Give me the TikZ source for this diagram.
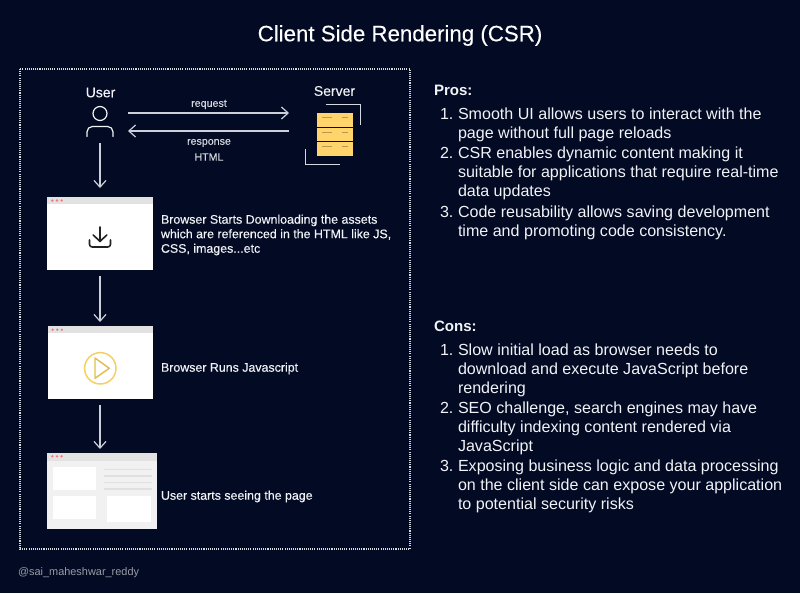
\documentclass[tikz,border=0pt]{standalone}
\usepackage{fontspec}
\setmainfont{Liberation Sans}
\newfontfamily\medfont[FakeBold=0.25]{Liberation Sans}
\definecolor{bg}{HTML}{020A24}
\definecolor{ink}{HTML}{F2F3F6}
\definecolor{soft}{HTML}{D5D8E0}
\definecolor{winbar}{HTML}{E2E2E2}
\definecolor{dots}{HTML}{F4777D}
\definecolor{amber}{HTML}{FFD56B}
\definecolor{amberline}{HTML}{F5CF60}
\definecolor{amberdark}{HTML}{E0C050}
\definecolor{pagegrey}{HTML}{F1F1F1}
\definecolor{linegrey}{HTML}{E0E0E0}
\definecolor{arrowc}{HTML}{CDD0DA}
\definecolor{iconink}{HTML}{222222}
\usetikzlibrary{arrows.meta}
\tikzset{
  x=0.75pt,y=-0.75pt,
  flow/.style={draw=arrowc,line width=0.9pt,-{Straight Barb[length=5pt,width=9pt,line width=0.9pt]}},
  txt/.style={inner sep=0pt,outer sep=0pt,anchor=base west,text=ink},
  step label/.style={txt,font=\medfont\fontsize{9.3pt}{10.9pt}\selectfont,align=left,anchor=west},
  small label/.style={inner sep=0pt,anchor=center,text=soft,font=\medfont\fontsize{8pt}{10pt}\selectfont},
  head label/.style={inner sep=0pt,anchor=center,text=ink,font=\medfont\fontsize{10.5pt}{12pt}\selectfont},
  num/.style={txt,font=\fontsize{12.05pt}{14.3pt}\selectfont},
  item/.style={txt,anchor=north west,align=left,font=\fontsize{12.05pt}{14.3pt}\selectfont},
  sect/.style={txt,font=\bfseries\fontsize{11.3pt}{14pt}\selectfont},
  winbody/.style={fill=white,draw=none,inner sep=0pt,outer sep=0pt,anchor=north west},
  rack/.style={fill=amber,inner sep=0pt,outer sep=0pt,minimum width=27pt,minimum height=10.1pt,anchor=north west},
  rackmark/.style={draw=amber!72!black,line width=0.35pt},
  rackcorner/.style={draw=soft,line width=0.5pt},
  icon/.style={draw=iconink,line width=1.2pt,line cap=round,line join=round},
}
\newcommand{\windots}[2]{%
  \fill[dots] (#1+5,#2) circle (1.3);
  \fill[dots] (#1+9.7,#2) circle (1.3);
  \fill[dots] (#1+14.3,#2) circle (1.3);
}
\begin{document}
\begin{tikzpicture}
\useasboundingbox (0,0) rectangle (800,593);
\fill[bg] (0,0) rectangle (800,593);
\node[inner sep=0pt,text=white,font=\medfont\fontsize{16.7pt}{20pt}\selectfont] (title) at (400,35.5) {Client Side Rendering (CSR)};
\draw[white!85!bg,line width=0.8pt,dash pattern=on 0.8pt off 0.8pt] (20,69) rectangle (410,549);

% user
\node[head label] (userlabel) at (100.5,92.5) {User};
\node[circle,draw=ink,line width=0.9pt,minimum size=10.5pt,inner sep=0pt] (user) at (100,113.5) {};
\draw[ink,line width=0.9pt,line cap=round,rounded corners=4pt] (87,136.5) -- (87,126.5) -- (113,126.5) -- (113,136.5);
\coordinate (userbottom) at (100,143);
\coordinate (a0e) at (100,188);

% server
\node[head label] (serverlabel) at (334.5,91) {Server};
\node[rack] (s1) at (317,113.3) {};
\node[rack] (s2) at (317,128) {};
\node[rack] (s3) at (317,142.3) {};
\foreach \yy in {117.5,132,146.3}{
  \draw[rackmark] (322,\yy) -- (332,\yy);
  \draw[rackmark] (342,\yy) -- (348,\yy);
}
\draw[rackcorner] (326,104.3) -- (360.5,104.3) -- (360.5,125);
\draw[rackcorner] (305,149) -- (305,164.3) -- (340,164.3);

% request / response
\coordinate (reqA) at (128,113);
\coordinate (reqB) at (289,113);
\coordinate (resA) at (289,131);
\coordinate (resB) at (128,131);
\draw[flow] (reqA) -- (reqB);
\draw[flow] (resA) -- (resB);
\node[small label] (req) at (209,104.5) {request};
\node[small label] (res) at (209,143) {response};
\node[small label] (html) at (209,157) {HTML};

% window 1
\node[winbody,minimum width=78.9pt,minimum height=55.2pt] (w1) at (47.3,196.5) {};
\fill[winbar] (47.3,196.5) rectangle (152.5,204);
\windots{47.3}{200.5}
\draw[icon] (100,227) -- (100,241.5) (93.3,235) -- (100,241.5) -- (106.7,235);
\draw[icon,rounded corners=2pt] (89.5,240) -- (89.5,247) -- (110.5,247) -- (110.5,240);

% window 2
\node[winbody,minimum width=78.5pt,minimum height=55.3pt] (w2) at (48,325.7) {};
\fill[winbar] (48,325.7) rectangle (152.7,333.3);
\windots{47.6}{329.7}
\draw[amberline,line width=1.1pt] (100.3,368.3) circle (15.7);
\draw[amberdark,line width=1.1pt,line join=round] (95,358) -- (109.3,368.3) -- (95,378.3) -- cycle;

% window 3
\node[winbody,fill=pagegrey,minimum width=82pt,minimum height=57.5pt] (w3) at (47.3,452.7) {};
\fill[winbar] (47.3,452.7) rectangle (156.6,460.7);
\windots{47.3}{456.3}
\fill[white] (53,466.7) rectangle (96,490);
\fill[white] (53,496) rectangle (96,519);
\fill[white] (106.7,496) rectangle (150.7,522);
\foreach \yy in {469.3,475.7,482.3,488.7}{\draw[linegrey,line width=1.2pt] (104,\yy) -- (152,\yy);}

% flow arrows
\coordinate (a1s) at (100,276);
\coordinate (a1e) at (100,322);
\coordinate (a2s) at (100,405);
\coordinate (a2e) at (100,449);
\draw[flow] (userbottom) -- (a0e);
\draw[flow] (a1s) -- (a1e);
\draw[flow] (a2s) -- (a2e);

% step labels
\node[step label] (l1) at (161,235) {Browser Starts Downloading the assets\\which are referenced in the HTML like JS,\\CSS, images...etc};
\node[step label] (l2) at (161,368.5) {Browser Runs Javascript};
\node[step label] (l3) at (161,496.5) {User starts seeing the page};

% pros
\node[sect] (pros) at (434,95) {Pros:};
\node[num] (p1) at (440,119) {1.};
\node[num] (p2) at (440,158) {2.};
\node[num] (p3) at (440,217) {3.};
\node[item] (pt1) at (458,108) {Smooth UI allows users to interact with the\\page without full page reloads};
\node[item] (pt2) at (458,147) {CSR enables dynamic content making it\\suitable for applications that require real-time\\data updates};
\node[item] (pt3) at (458,206) {Code reusability allows saving development\\time and promoting code consistency.};

% cons
\node[sect] (cons) at (434,331) {Cons:};
\node[num] (c1) at (440,355) {1.};
\node[num] (c2) at (440,413) {2.};
\node[num] (c3) at (440,471) {3.};
\node[item] (ct1) at (458,344) {Slow initial load as browser needs to\\download and execute JavaScript before\\rendering};
\node[item] (ct2) at (458,402) {SEO challenge, search engines may have\\difficulty indexing content rendered via\\JavaScript};
\node[item] (ct3) at (458,460) {Exposing business logic and data processing\\on the client side can expose your application\\to potential security risks};

\node[txt,text=white!60!bg,font=\fontsize{8.2pt}{10pt}\selectfont] (credit) at (18,575) {@sai\_maheshwar\_reddy};
\end{tikzpicture}
\end{document}
